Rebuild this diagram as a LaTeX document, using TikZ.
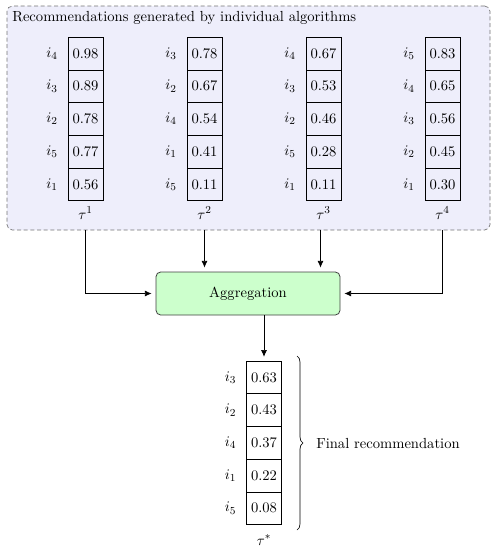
\documentclass[tikz,border=0pt,11pt]{standalone}
\usetikzlibrary{arrows.meta,decorations.pathreplacing,calc}
\definecolor{grpfill}{RGB}{238,238,251}
\definecolor{aggfill}{RGB}{204,255,204}
\begin{document}
\begin{tikzpicture}[x=0.75pt,y=-0.75pt,
  cell/.style={draw=black, line width=0.5pt, minimum width=26.25pt, minimum height=24.5pt, inner sep=0pt},
  itemlbl/.style={inner sep=0pt},
  grpbox/.style={draw=black!55, dash pattern=on 3pt off 2pt, fill=grpfill, rounded corners=4pt, line width=0.5pt, minimum width=362.25pt, minimum height=168pt, inner sep=0pt},
  aggbox/.style={draw=black!75, fill=aggfill, rounded corners=3.5pt, line width=0.6pt, minimum width=138pt, minimum height=32.25pt, inner sep=0pt},
  arr/.style={-{Latex[length=5pt,width=4.5pt]}, line width=0.5pt, shorten >=3pt}
]
\useasboundingbox (0,0) rectangle (497,550);
% group box
\node[grpbox] (grp) at (248.5,118) {};
\node[anchor=base west, inner sep=0pt] (title) at (12,21) {Recommendations generated by individual algorithms};
% columns
\foreach \c/\x/\data in {
  1/85.5/{4/0.98,3/0.89,2/0.78,5/0.77,1/0.56},
  2/204.5/{3/0.78,2/0.67,4/0.54,1/0.41,5/0.11},
  3/323.5/{4/0.67,3/0.53,2/0.46,5/0.28,1/0.11},
  4/442.5/{5/0.83,4/0.65,3/0.56,2/0.45,1/0.30}}{
  \foreach \i/\v [count=\r] in \data {
    \node[cell] (c\c r\r) at (\x, 53.5+32.7*\r-32.7) {$\v$};
    \node[itemlbl] (l\c r\r) at (\x-33.5, 53.5+32.7*\r-32.7) {$i_{\i}$};
  }
  \node (t\c) at (\x,213) {$\tau^{\c}$};
}
% aggregation
\node[aggbox] (agg) at (248,293.5) {Aggregation};
\draw[arr] (t1 |- grp.south) |- (agg.west);
\draw[arr] (t2 |- grp.south) -- (t2 |- agg.north);
\draw[arr] ($(t3 |- grp.south)+(-3,0)$) -- ($(t3 |- agg.north)+(-3,0)$);
\draw[arr] (t4 |- grp.south) |- (agg.east);
% final column
\foreach \i/\v [count=\r] in {3/0.63,2/0.43,4/0.37,1/0.22,5/0.08} {
  \node[cell] (f\r) at (264, 377.4+32.7*\r-32.7) {$\v$};
  \node[itemlbl] (fl\r) at (230.5, 377.4+32.7*\r-32.7) {$i_{\i}$};
}
\node (tf) at (264,540) {$\tau^{*}$};
\draw[arr] (agg.south -| f1) -- (f1.north);
% brace
\coordinate (bt) at (297,356);
\coordinate (bb) at (297,530);
\draw[decorate, decoration={brace, amplitude=4.5pt}, line width=0.5pt] (bt) -- (bb);
\node[anchor=west, inner sep=0pt] (final) at (316,444) {Final recommendation};
\end{tikzpicture}
\end{document}
